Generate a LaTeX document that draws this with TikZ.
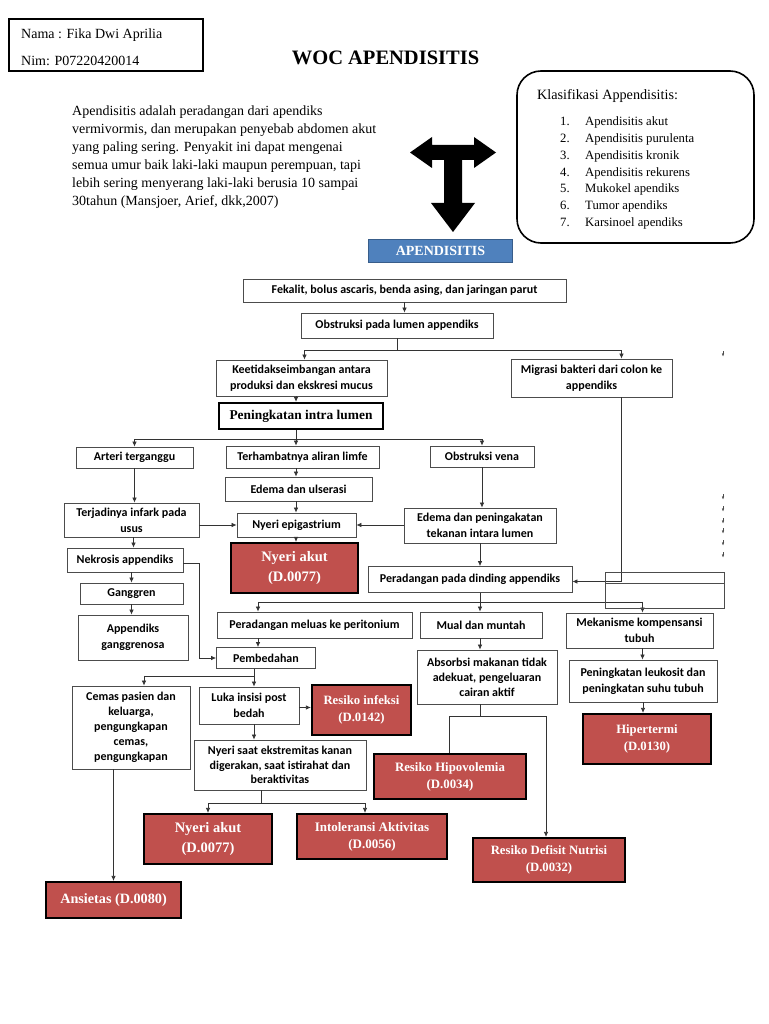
\documentclass[tikz,border=0pt]{standalone}
\usepackage{fontspec}
\setmainfont{Liberation Serif}
\newfontfamily\calfont{Carlito}
\usetikzlibrary{arrows.meta,calc}
\definecolor{redc}{HTML}{C0504D}
\definecolor{bluec}{HTML}{4F81BD}
\definecolor{blueb}{HTML}{385D8A}
\begin{document}
\begin{tikzpicture}[x=1pt,y=-1pt,
  fb/.style={draw=black!70, line width=0.8pt, fill=white, align=center, inner sep=1pt,
    font=\calfont\bfseries\fontsize{12}{16}\selectfont},
  rb/.style={draw=black, line width=2.2pt, fill=redc, text=white, align=center, inner sep=1pt},
  rbig/.style={rb, font=\bfseries\fontsize{14.5}{20}\selectfont},
  rsmall/.style={rb, font=\bfseries\fontsize{12.7}{17}\selectfont},
  arr/.style={-{Latex[length=5pt,width=4.5pt]}, line width=0.7pt, draw=black!80},
  ln/.style={line width=0.7pt, draw=black!80},
  tick/.style={-{Latex[length=3pt,width=2.5pt]}, line width=0.4pt, draw=black!70},
  serif/.style={inner sep=0pt, font=\fontsize{14}{18.1}\selectfont},
  litem/.style={inner sep=0pt, anchor=base west, font=\fontsize{12.7}{14}\selectfont},
]
\useasboundingbox[fill=white] (0,0) rectangle (768,1024);

% header
\node[draw=black, line width=2.4pt, minimum width=194, minimum height=52, inner sep=0pt] (idbox) at (106,45) {};
\node[serif, anchor=base west] (nama) at (21,38.5) {Nama : Fika Dwi Aprilia};
\node[serif, anchor=base west] (nim) at (21,65.5) {Nim: P07220420014};
\node[inner sep=0pt, anchor=base, font=\bfseries\fontsize{20.5}{22}\selectfont] (title) at (385.5,64.5) {WOC APENDISITIS};

\node[serif, anchor=north west, align=left] (para) at (72,105.5) {Apendisitis adalah peradangan dari apendiks\\
vermivormis, dan merupakan penyebab abdomen akut\\
yang paling sering. Penyakit ini dapat mengenai\\
semua umur baik laki-laki maupun perempuan, tapi\\
lebih sering menyerang laki-laki berusia 10 sampai\\
30tahun (Mansjoer, Arief, dkk,2007)};

% classification box
\node[draw=black, line width=1.6pt, rounded corners=24pt, minimum width=237, minimum height=172, inner sep=0pt] (klas) at (635.5,157) {};
\node[serif, anchor=base west, font=\fontsize{14.2}{16}\selectfont] (klt) at (537,100) {Klasifikasi Appendisitis:};
\foreach \i/\t [count=\k from 0] in {1/Apendisitis akut,2/Apendisitis purulenta,3/Apendisitis kronik,4/Apendisitis rekurens,5/Mukokel apendiks,6/Tumor apendiks,7/Karsinoel apendiks}{
  \node[litem] (kn\i) at (560,{126+16.75*\k}) {\i.};
  \node[litem] (kt\i) at (585,{126+16.75*\k}) {\t};
}

% T arrow
\fill[black] (410,152.5) -- (432,137) -- (432,145) -- (474,145) -- (474,137) -- (496,152.5)
  -- (474,168) -- (474,160) -- (462,160) -- (462,203) -- (475,203) -- (453,232)
  -- (431,203) -- (444,203) -- (444,160) -- (432,160) -- (432,168) -- cycle;

% main
\node[draw=blueb, line width=1pt, fill=bluec, text=white, minimum width=144, minimum height=23, inner sep=0pt,
  font=\bfseries\fontsize{14}{15}\selectfont] (apd) at (440.5,250.5) {APENDISITIS};

\node[fb, minimum width=323, minimum height=23] (fek) at (404.5,290.5) {Fekalit, bolus ascaris, benda asing, dan jaringan parut};
\node[fb, minimum width=192, minimum height=25] (obs) at (397,325.5) {Obstruksi pada lumen appendiks};
\node[fb, minimum width=171, minimum height=36] (keet) at (301.5,378) {Keetidakseimbangan antara\\produksi dan ekskresi mucus};
\node[fb, minimum width=161, minimum height=38] (mig) at (591.5,378) {Migrasi bakteri dari colon ke\\appendiks};
\node[draw=black, line width=2.4pt, fill=white, minimum width=164, minimum height=26, inner sep=0pt,
  font=\bfseries\fontsize{13.4}{15}\selectfont] (pil) at (301,416) {Peningkatan intra lumen};
\node[fb, minimum width=117, minimum height=21] (art) at (134.5,457.5) {Arteri terganggu};
\node[fb, minimum width=153, minimum height=22] (ter) at (302.5,457) {Terhambatnya aliran limfe};
\node[fb, minimum width=104, minimum height=21] (obv) at (482,456.5) {Obstruksi vena};
\node[fb, minimum width=147, minimum height=24] (ede) at (298.5,489) {Edema dan ulserasi};
\node[fb, minimum width=119, minimum height=24] (nye) at (296.5,525) {Nyeri epigastrium};
\node[fb, minimum width=135, minimum height=34] (inf) at (131.5,520) {Terjadinya infark pada\\usus};
\node[fb, minimum width=152, minimum height=35] (edp) at (480,525.5) {Edema dan peningakatan\\tekanan intara lumen};
\node[rbig, minimum width=127, minimum height=50] (na1) at (294.5,568) {Nyeri akut\\(D.0077)};
\node[fb, minimum width=116, minimum height=24] (nek) at (125,560) {Nekrosis appendiks};
\node[fb, minimum width=103, minimum height=21] (gan) at (131.5,593.5) {Ganggren};
\node[fb, minimum width=110, minimum height=45] (apg) at (133,637.5) {Appendiks\\ganggrenosa};
\node[fb, minimum width=99, minimum height=21] (pem) at (266,658) {Pembedahan};
\node[fb, minimum width=204, minimum height=26] (pad) at (470,579.5) {Peradangan pada dinding appendiks};
\node[fb, minimum width=195, minimum height=26] (pmp) at (314.5,625) {Peradangan meluas ke peritonium};
\node[fb, minimum width=122, minimum height=26] (mua) at (481,625) {Mual dan muntah};
\node[fb, minimum width=147, minimum height=35] (mek) at (639.5,630.5) {Mekanisme kompensansi\\tubuh};
\node[fb, minimum width=140, minimum height=54, font=\calfont\bfseries\fontsize{12}{15}\selectfont] (abs) at (487,677) {Absorbsi makanan tidak\\adekuat, pengeluaran\\cairan aktif};
\node[fb, minimum width=148, minimum height=42] (pls) at (643,681) {Peningkatan leukosit dan\\peningkatan suhu tubuh};
\node[rsmall, minimum width=128, minimum height=50] (hip) at (647,739) {Hipertermi\\(D.0130)};
\node[rsmall, minimum width=152, minimum height=45, font=\bfseries\fontsize{12.8}{17}\selectfont] (rhv) at (450,776.5) {Resiko Hipovolemia\\(D.0034)};
\node[rsmall, minimum width=152, minimum height=44] (rdn) at (549,860) {Resiko Defisit Nutrisi\\(D.0032)};
\node[fb, minimum width=118, minimum height=83, font=\calfont\bfseries\fontsize{12}{15}\selectfont] (cem) at (131,727.5) {Cemas pasien dan\\keluarga,\\pengungkapan\\cemas,\\pengungkapan};
\node[fb, minimum width=100, minimum height=37] (luk) at (249,705.5) {Luka insisi post\\bedah};
\node[rsmall, minimum width=99, minimum height=50] (rin) at (361.5,710) {Resiko infeksi\\(D.0142)};
\node[fb, minimum width=172, minimum height=50, font=\calfont\bfseries\fontsize{12}{14.8}\selectfont] (nsa) at (280,765) {Nyeri saat ekstremitas kanan\\digerakan, saat istirahat dan\\beraktivitas};
\node[rbig, minimum width=128, minimum height=50] (na2) at (208,839) {Nyeri akut\\(D.0077)};
\node[rb, minimum width=150, minimum height=45, font=\bfseries\fontsize{13}{17}\selectfont] (int) at (372,836.5) {Intoleransi Aktivitas\\(D.0056)};
\node[rb, minimum width=135, minimum height=36, font=\bfseries\fontsize{14.2}{15}\selectfont] (ans) at (113.5,900) {Ansietas (D.0080)};

% connectors
\coordinate (cx) at (296,0);
\coordinate (xa) at (258,0);
\draw[arr] (fek.south) -- (fek.south |- obs.north);
\draw[ln] (obs.south) -- ++(0,12) coordinate (s1);
\draw[ln] ([xshift=3pt]keet.north |- s1) -- ([xshift=30pt]mig.north |- s1);
\draw[arr] ([xshift=3pt]keet.north |- s1) -- ([xshift=3pt]keet.north);
\draw[arr] ([xshift=30pt]mig.north |- s1) -- ([xshift=30pt]mig.north);
\draw[arr] (keet.south -| cx) -- (cx |- pil.north);

\draw[ln] (pil.south -| cx) -- ++(0,9) coordinate (s2);
\draw[ln] (art.north |- s2) -- (obv.north |- s2);
\draw[arr] (art.north |- s2) -- (art.north);
\draw[arr] (s2) -- (cx |- ter.north);
\draw[arr] (obv.north |- s2) -- (obv.north);
\draw[arr] (cx |- ter.south) -- (cx |- ede.north);
\draw[arr] (cx |- ede.south) -- (cx |- nye.north);
\draw[arr] (cx |- nye.south) -- (cx |- na1.north);
\draw[arr] (art.south) -- (art.south |- inf.north);
\draw[arr] (inf.east |- nye.west) -- (nye.west);
\draw[arr] (obv.south) -- (obv.south |- edp.north);
\draw[arr] (edp.west |- nye.east) -- (nye.east);
\draw[arr] ([xshift=2pt]inf.south) -- ([xshift=2pt]inf.south |- nek.north);
\draw[arr] (gan.north |- nek.south) -- (gan.north);
\draw[arr] (gan.south) -- (gan.south |- apg.north);
\draw[arr] ([yshift=-3pt]nek.east) -- ++(16,0) |- (pem.west);
\draw[arr] (edp.south) -- (edp.south |- pad.north);
\draw[arr] ([xshift=30pt]mig.south) |- ([yshift=-2pt]pad.east);

\draw[ln] (edp.south |- pad.south) -- ++(0,9) coordinate (s3);
\draw[ln] (xa |- s3) -- ([xshift=3pt]mek.north |- s3);
\draw[arr] (xa |- s3) -- (xa |- pmp.north);
\draw[arr] (s3) -- (s3 |- mua.north);
\draw[arr] ([xshift=3pt]mek.north |- s3) -- ([xshift=3pt]mek.north);
\draw[arr] (xa |- pmp.south) -- (xa |- pem.north);
\draw[arr] (s3 |- mua.south) -- (s3 |- abs.north);
\draw[ln] (s3 |- abs.south) -- ++(0,12) coordinate (s4);
\draw[ln] ([xshift=-1pt]rhv.north |- s4) -- ([xshift=-3pt]rdn.north |- s4);
\draw[ln] ([xshift=-1pt]rhv.north |- s4) -- ([xshift=-1pt]rhv.north);
\draw[arr] ([xshift=-3pt]rdn.north |- s4) -- ([xshift=-3pt]rdn.north);
\draw[arr] ([xshift=3pt]mek.south) -- ([xshift=3pt]mek.south |- pls.north);
\draw[arr] (pls.south) -- (pls.south |- hip.north);

\draw[ln] ([xshift=-12pt]pem.south) -- ++(0,7) coordinate (s5);
\draw[ln] ([xshift=13pt]cem.north |- s5) -- (s5);
\draw[arr] ([xshift=13pt]cem.north |- s5) -- ([xshift=13pt]cem.north);
\draw[arr] (s5) -- (s5 |- luk.north);
\draw[arr] ([yshift=-2pt]luk.east) -- ([yshift=-2pt]luk.east -| rin.west);
\draw[arr] (s5 |- luk.south) -- (s5 |- nsa.north);
\draw[ln] ([xshift=-19pt]nsa.south) -- ++(0,13) coordinate (s6);
\draw[ln] (na2.north |- s6) -- ([xshift=-7pt]int.north |- s6);
\draw[arr] (na2.north |- s6) -- (na2.north);
\draw[arr] ([xshift=-7pt]int.north |- s6) -- ([xshift=-7pt]int.north);
\draw[arr] (ans.north |- cem.south) -- (ans.north);

% stray shapes at right
\draw[line width=0.7pt, draw=black!70] (605,572) rectangle (724,608);
\draw[line width=0.7pt, draw=black!70] (605,583) -- (724,583);
\foreach \yy in {355,498,510,522,532,544,556}{
  \draw[tick] (723,\yy-4) -- (723,\yy+1.5);
}
\end{tikzpicture}
\end{document}
